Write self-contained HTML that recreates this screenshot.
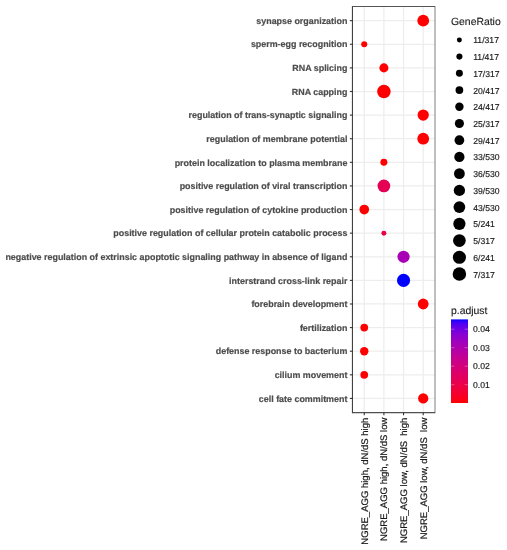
<!DOCTYPE html>
<html><head><meta charset="utf-8"><title>dotplot</title>
<style>html,body{margin:0;padding:0;background:#fff;width:507px;height:550px;overflow:hidden}
svg{display:block;font-family:"Liberation Sans",Arial,sans-serif;text-rendering:geometricPrecision} text{stroke-width:0.25px} .yl{stroke-width:0.18px} .xl{stroke-width:0.2px} .lt{stroke-width:0.12px} .ll{stroke-width:0.16px}</style></head>
<body><svg width="507" height="550" viewBox="0 0 507 550">
<defs><linearGradient id="cb" x1="0" y1="0" x2="0" y2="1"><stop offset="0.000" stop-color="#0000FF"/><stop offset="0.025" stop-color="#3500F9"/><stop offset="0.050" stop-color="#4B00F3"/><stop offset="0.075" stop-color="#5B00ED"/><stop offset="0.100" stop-color="#6800E7"/><stop offset="0.125" stop-color="#7300E0"/><stop offset="0.150" stop-color="#7C00DA"/><stop offset="0.175" stop-color="#8500D4"/><stop offset="0.200" stop-color="#8D00CE"/><stop offset="0.225" stop-color="#9400C8"/><stop offset="0.250" stop-color="#9A00C3"/><stop offset="0.275" stop-color="#A000BD"/><stop offset="0.300" stop-color="#A600B7"/><stop offset="0.325" stop-color="#AB00B1"/><stop offset="0.350" stop-color="#B000AB"/><stop offset="0.375" stop-color="#B500A5"/><stop offset="0.400" stop-color="#BA009F"/><stop offset="0.425" stop-color="#BE009A"/><stop offset="0.450" stop-color="#C20094"/><stop offset="0.475" stop-color="#C6008E"/><stop offset="0.500" stop-color="#CA0088"/><stop offset="0.525" stop-color="#CD0083"/><stop offset="0.550" stop-color="#D1007D"/><stop offset="0.575" stop-color="#D40077"/><stop offset="0.600" stop-color="#D70072"/><stop offset="0.625" stop-color="#DA006C"/><stop offset="0.650" stop-color="#DD0066"/><stop offset="0.675" stop-color="#E00061"/><stop offset="0.700" stop-color="#E3005B"/><stop offset="0.725" stop-color="#E50055"/><stop offset="0.750" stop-color="#E80050"/><stop offset="0.775" stop-color="#EB004A"/><stop offset="0.800" stop-color="#ED0044"/><stop offset="0.825" stop-color="#EF003E"/><stop offset="0.850" stop-color="#F20037"/><stop offset="0.875" stop-color="#F40031"/><stop offset="0.900" stop-color="#F6002A"/><stop offset="0.925" stop-color="#F90023"/><stop offset="0.950" stop-color="#FB001A"/><stop offset="0.975" stop-color="#FD000F"/><stop offset="1.000" stop-color="#FF0000"/></linearGradient></defs>
<rect x="0" y="0" width="507" height="550" fill="#fff"/>
<line x1="352.45" x2="435.0" y1="20.67" y2="20.67" stroke="#EDEDED" stroke-width="1.25"/>
<line x1="352.45" x2="435.0" y1="44.28" y2="44.28" stroke="#EDEDED" stroke-width="1.25"/>
<line x1="352.45" x2="435.0" y1="67.89" y2="67.89" stroke="#EDEDED" stroke-width="1.25"/>
<line x1="352.45" x2="435.0" y1="91.50" y2="91.50" stroke="#EDEDED" stroke-width="1.25"/>
<line x1="352.45" x2="435.0" y1="115.11" y2="115.11" stroke="#EDEDED" stroke-width="1.25"/>
<line x1="352.45" x2="435.0" y1="138.72" y2="138.72" stroke="#EDEDED" stroke-width="1.25"/>
<line x1="352.45" x2="435.0" y1="162.33" y2="162.33" stroke="#EDEDED" stroke-width="1.25"/>
<line x1="352.45" x2="435.0" y1="185.94" y2="185.94" stroke="#EDEDED" stroke-width="1.25"/>
<line x1="352.45" x2="435.0" y1="209.55" y2="209.55" stroke="#EDEDED" stroke-width="1.25"/>
<line x1="352.45" x2="435.0" y1="233.16" y2="233.16" stroke="#EDEDED" stroke-width="1.25"/>
<line x1="352.45" x2="435.0" y1="256.77" y2="256.77" stroke="#EDEDED" stroke-width="1.25"/>
<line x1="352.45" x2="435.0" y1="280.38" y2="280.38" stroke="#EDEDED" stroke-width="1.25"/>
<line x1="352.45" x2="435.0" y1="303.99" y2="303.99" stroke="#EDEDED" stroke-width="1.25"/>
<line x1="352.45" x2="435.0" y1="327.60" y2="327.60" stroke="#EDEDED" stroke-width="1.25"/>
<line x1="352.45" x2="435.0" y1="351.21" y2="351.21" stroke="#EDEDED" stroke-width="1.25"/>
<line x1="352.45" x2="435.0" y1="374.82" y2="374.82" stroke="#EDEDED" stroke-width="1.25"/>
<line x1="352.45" x2="435.0" y1="398.43" y2="398.43" stroke="#EDEDED" stroke-width="1.25"/>
<line x1="364.24" x2="364.24" y1="6.5" y2="412.6" stroke="#EDEDED" stroke-width="1.25"/>
<line x1="383.90" x2="383.90" y1="6.5" y2="412.6" stroke="#EDEDED" stroke-width="1.25"/>
<line x1="403.55" x2="403.55" y1="6.5" y2="412.6" stroke="#EDEDED" stroke-width="1.25"/>
<line x1="423.21" x2="423.21" y1="6.5" y2="412.6" stroke="#EDEDED" stroke-width="1.25"/>
<circle cx="423.21" cy="20.67" r="5.88" fill="#FF0000"/>
<circle cx="364.24" cy="44.28" r="3.03" fill="#FF0000"/>
<circle cx="383.90" cy="67.89" r="4.55" fill="#FF0000"/>
<circle cx="383.90" cy="91.50" r="6.76" fill="#FF0000"/>
<circle cx="423.21" cy="115.11" r="5.64" fill="#FF0000"/>
<circle cx="423.21" cy="138.72" r="5.88" fill="#FF0000"/>
<circle cx="383.90" cy="162.33" r="3.48" fill="#FF0000"/>
<circle cx="383.90" cy="185.94" r="6.34" fill="#E60054"/>
<circle cx="364.24" cy="209.55" r="4.85" fill="#FF0000"/>
<circle cx="383.90" cy="233.16" r="2.49" fill="#ED0044"/>
<circle cx="403.55" cy="256.77" r="6.11" fill="#A800B4"/>
<circle cx="403.55" cy="280.38" r="6.55" fill="#0000FF"/>
<circle cx="423.21" cy="303.99" r="5.39" fill="#FF0000"/>
<circle cx="364.24" cy="327.60" r="3.87" fill="#FF0000"/>
<circle cx="364.24" cy="351.21" r="4.22" fill="#FF0000"/>
<circle cx="364.24" cy="374.82" r="3.87" fill="#FF0000"/>
<circle cx="423.21" cy="398.43" r="5.13" fill="#FF0000"/>
<line x1="352.45" x2="352.45" y1="5.95" y2="413.15000000000003" stroke="#404040" stroke-width="1.1"/>
<line x1="435.0" x2="435.0" y1="5.95" y2="413.15000000000003" stroke="#8A8A8A" stroke-width="1.1"/>
<line x1="352.45" x2="435.0" y1="6.5" y2="6.5" stroke="#555555" stroke-width="1.1"/>
<line x1="352.45" x2="435.0" y1="412.6" y2="412.6" stroke="#505050" stroke-width="1.1"/>
<line x1="349.85" x2="352.45" y1="20.67" y2="20.67" stroke="#333333" stroke-width="1.1"/>
<line x1="349.85" x2="352.45" y1="44.28" y2="44.28" stroke="#333333" stroke-width="1.1"/>
<line x1="349.85" x2="352.45" y1="67.89" y2="67.89" stroke="#333333" stroke-width="1.1"/>
<line x1="349.85" x2="352.45" y1="91.50" y2="91.50" stroke="#333333" stroke-width="1.1"/>
<line x1="349.85" x2="352.45" y1="115.11" y2="115.11" stroke="#333333" stroke-width="1.1"/>
<line x1="349.85" x2="352.45" y1="138.72" y2="138.72" stroke="#333333" stroke-width="1.1"/>
<line x1="349.85" x2="352.45" y1="162.33" y2="162.33" stroke="#333333" stroke-width="1.1"/>
<line x1="349.85" x2="352.45" y1="185.94" y2="185.94" stroke="#333333" stroke-width="1.1"/>
<line x1="349.85" x2="352.45" y1="209.55" y2="209.55" stroke="#333333" stroke-width="1.1"/>
<line x1="349.85" x2="352.45" y1="233.16" y2="233.16" stroke="#333333" stroke-width="1.1"/>
<line x1="349.85" x2="352.45" y1="256.77" y2="256.77" stroke="#333333" stroke-width="1.1"/>
<line x1="349.85" x2="352.45" y1="280.38" y2="280.38" stroke="#333333" stroke-width="1.1"/>
<line x1="349.85" x2="352.45" y1="303.99" y2="303.99" stroke="#333333" stroke-width="1.1"/>
<line x1="349.85" x2="352.45" y1="327.60" y2="327.60" stroke="#333333" stroke-width="1.1"/>
<line x1="349.85" x2="352.45" y1="351.21" y2="351.21" stroke="#333333" stroke-width="1.1"/>
<line x1="349.85" x2="352.45" y1="374.82" y2="374.82" stroke="#333333" stroke-width="1.1"/>
<line x1="349.85" x2="352.45" y1="398.43" y2="398.43" stroke="#333333" stroke-width="1.1"/>
<line x1="364.24" x2="364.24" y1="412.6" y2="415.20" stroke="#333333" stroke-width="1.1"/>
<line x1="383.90" x2="383.90" y1="412.6" y2="415.20" stroke="#333333" stroke-width="1.1"/>
<line x1="403.55" x2="403.55" y1="412.6" y2="415.20" stroke="#333333" stroke-width="1.1"/>
<line x1="423.21" x2="423.21" y1="412.6" y2="415.20" stroke="#333333" stroke-width="1.1"/>
<text x="347.4" y="23.86" text-anchor="end" class="yl" font-weight="bold" font-size="8.92" fill="#4D4D4D" stroke="#4D4D4D">synapse organization</text>
<text x="347.4" y="47.47" text-anchor="end" class="yl" font-weight="bold" font-size="8.92" fill="#4D4D4D" stroke="#4D4D4D">sperm-egg recognition</text>
<text x="347.4" y="71.08" text-anchor="end" class="yl" font-weight="bold" font-size="8.92" fill="#4D4D4D" stroke="#4D4D4D">RNA splicing</text>
<text x="347.4" y="94.69" text-anchor="end" class="yl" font-weight="bold" font-size="8.92" fill="#4D4D4D" stroke="#4D4D4D">RNA capping</text>
<text x="347.4" y="118.30" text-anchor="end" class="yl" font-weight="bold" font-size="8.92" fill="#4D4D4D" stroke="#4D4D4D">regulation of trans-synaptic signaling</text>
<text x="347.4" y="141.91" text-anchor="end" class="yl" font-weight="bold" font-size="8.92" fill="#4D4D4D" stroke="#4D4D4D">regulation of membrane potential</text>
<text x="347.4" y="165.52" text-anchor="end" class="yl" font-weight="bold" font-size="8.92" fill="#4D4D4D" stroke="#4D4D4D">protein localization to plasma membrane</text>
<text x="347.4" y="189.13" text-anchor="end" class="yl" font-weight="bold" font-size="8.92" fill="#4D4D4D" stroke="#4D4D4D">positive regulation of viral transcription</text>
<text x="347.4" y="212.74" text-anchor="end" class="yl" font-weight="bold" font-size="8.92" fill="#4D4D4D" stroke="#4D4D4D">positive regulation of cytokine production</text>
<text x="347.4" y="236.35" text-anchor="end" class="yl" font-weight="bold" font-size="8.92" fill="#4D4D4D" stroke="#4D4D4D">positive regulation of cellular protein catabolic process</text>
<text x="347.4" y="259.96" text-anchor="end" class="yl" font-weight="bold" font-size="8.92" fill="#4D4D4D" stroke="#4D4D4D">negative regulation of extrinsic apoptotic signaling pathway in absence of ligand</text>
<text x="347.4" y="283.57" text-anchor="end" class="yl" font-weight="bold" font-size="8.92" fill="#4D4D4D" stroke="#4D4D4D">interstrand cross-link repair</text>
<text x="347.4" y="307.19" text-anchor="end" class="yl" font-weight="bold" font-size="8.92" fill="#4D4D4D" stroke="#4D4D4D">forebrain development</text>
<text x="347.4" y="330.80" text-anchor="end" class="yl" font-weight="bold" font-size="8.92" fill="#4D4D4D" stroke="#4D4D4D">fertilization</text>
<text x="347.4" y="354.41" text-anchor="end" class="yl" font-weight="bold" font-size="8.92" fill="#4D4D4D" stroke="#4D4D4D">defense response to bacterium</text>
<text x="347.4" y="378.02" text-anchor="end" class="yl" font-weight="bold" font-size="8.92" fill="#4D4D4D" stroke="#4D4D4D">cilium movement</text>
<text x="347.4" y="401.63" text-anchor="end" class="yl" font-weight="bold" font-size="8.92" fill="#4D4D4D" stroke="#4D4D4D">cell fate commitment</text>
<text transform="translate(367.75,417.70) rotate(-90)" x="0" y="0" class="xl" text-anchor="end" font-size="9.52" fill="#1A1A1A" stroke="#1A1A1A" xml:space="preserve">NGRE_AGG high, dN/dS high</text>
<text transform="translate(387.41,417.70) rotate(-90)" x="0" y="0" class="xl" text-anchor="end" font-size="9.52" fill="#1A1A1A" stroke="#1A1A1A" xml:space="preserve">NGRE_AGG high, dN/dS low</text>
<text transform="translate(407.06,417.70) rotate(-90)" x="0" y="0" class="xl" text-anchor="end" font-size="9.52" fill="#1A1A1A" stroke="#1A1A1A" xml:space="preserve">NGRE_AGG low, dN/dS  high</text>
<text transform="translate(426.72,417.70) rotate(-90)" x="0" y="0" class="xl" text-anchor="end" font-size="9.52" fill="#1A1A1A" stroke="#1A1A1A" xml:space="preserve">NGRE_AGG low, dN/dS  low</text>
<text x="451.0" y="25.0" class="lt" font-size="10.4" fill="#1A1A1A" stroke="#1A1A1A">GeneRatio</text>
<circle cx="459.4" cy="39.90" r="2.49" fill="#000"/>
<text x="473.2" y="43.45" class="ll" font-size="8.65" fill="#1A1A1A" stroke="#1A1A1A">11/317</text>
<circle cx="459.4" cy="56.62" r="3.03" fill="#000"/>
<text x="473.2" y="60.17" class="ll" font-size="8.65" fill="#1A1A1A" stroke="#1A1A1A">11/417</text>
<circle cx="459.4" cy="73.34" r="3.48" fill="#000"/>
<text x="473.2" y="76.89" class="ll" font-size="8.65" fill="#1A1A1A" stroke="#1A1A1A">17/317</text>
<circle cx="459.4" cy="90.06" r="3.87" fill="#000"/>
<text x="473.2" y="93.61" class="ll" font-size="8.65" fill="#1A1A1A" stroke="#1A1A1A">20/417</text>
<circle cx="459.4" cy="106.78" r="4.22" fill="#000"/>
<text x="473.2" y="110.33" class="ll" font-size="8.65" fill="#1A1A1A" stroke="#1A1A1A">24/417</text>
<circle cx="459.4" cy="123.50" r="4.55" fill="#000"/>
<text x="473.2" y="127.05" class="ll" font-size="8.65" fill="#1A1A1A" stroke="#1A1A1A">25/317</text>
<circle cx="459.4" cy="140.22" r="4.85" fill="#000"/>
<text x="473.2" y="143.77" class="ll" font-size="8.65" fill="#1A1A1A" stroke="#1A1A1A">29/417</text>
<circle cx="459.4" cy="156.94" r="5.13" fill="#000"/>
<text x="473.2" y="160.49" class="ll" font-size="8.65" fill="#1A1A1A" stroke="#1A1A1A">33/530</text>
<circle cx="459.4" cy="173.66" r="5.39" fill="#000"/>
<text x="473.2" y="177.21" class="ll" font-size="8.65" fill="#1A1A1A" stroke="#1A1A1A">36/530</text>
<circle cx="459.4" cy="190.38" r="5.64" fill="#000"/>
<text x="473.2" y="193.93" class="ll" font-size="8.65" fill="#1A1A1A" stroke="#1A1A1A">39/530</text>
<circle cx="459.4" cy="207.10" r="5.88" fill="#000"/>
<text x="473.2" y="210.65" class="ll" font-size="8.65" fill="#1A1A1A" stroke="#1A1A1A">43/530</text>
<circle cx="459.4" cy="223.82" r="6.11" fill="#000"/>
<text x="473.2" y="227.37" class="ll" font-size="8.65" fill="#1A1A1A" stroke="#1A1A1A">5/241</text>
<circle cx="459.4" cy="240.54" r="6.34" fill="#000"/>
<text x="473.2" y="244.09" class="ll" font-size="8.65" fill="#1A1A1A" stroke="#1A1A1A">5/317</text>
<circle cx="459.4" cy="257.26" r="6.55" fill="#000"/>
<text x="473.2" y="260.81" class="ll" font-size="8.65" fill="#1A1A1A" stroke="#1A1A1A">6/241</text>
<circle cx="459.4" cy="273.98" r="6.76" fill="#000"/>
<text x="473.2" y="277.53" class="ll" font-size="8.65" fill="#1A1A1A" stroke="#1A1A1A">7/317</text>
<text x="451.0" y="313.5" class="lt" font-size="10.4" fill="#1A1A1A" stroke="#1A1A1A">p.adjust</text>
<rect x="451.0" y="319.4" width="17.0" height="83.60" fill="url(#cb)"/>
<line x1="451.0" x2="454.40" y1="329.20" y2="329.20" stroke="#fff" stroke-width="0.5" stroke-opacity="0.6"/>
<line x1="464.60" x2="468.0" y1="329.20" y2="329.20" stroke="#fff" stroke-width="0.5" stroke-opacity="0.6"/>
<text x="473.0" y="332.30" class="ll" font-size="8.65" fill="#1A1A1A" stroke="#1A1A1A">0.04</text>
<line x1="451.0" x2="454.40" y1="347.70" y2="347.70" stroke="#fff" stroke-width="0.5" stroke-opacity="0.6"/>
<line x1="464.60" x2="468.0" y1="347.70" y2="347.70" stroke="#fff" stroke-width="0.5" stroke-opacity="0.6"/>
<text x="473.0" y="350.80" class="ll" font-size="8.65" fill="#1A1A1A" stroke="#1A1A1A">0.03</text>
<line x1="451.0" x2="454.40" y1="366.20" y2="366.20" stroke="#fff" stroke-width="0.5" stroke-opacity="0.6"/>
<line x1="464.60" x2="468.0" y1="366.20" y2="366.20" stroke="#fff" stroke-width="0.5" stroke-opacity="0.6"/>
<text x="473.0" y="369.30" class="ll" font-size="8.65" fill="#1A1A1A" stroke="#1A1A1A">0.02</text>
<line x1="451.0" x2="454.40" y1="384.70" y2="384.70" stroke="#fff" stroke-width="0.5" stroke-opacity="0.6"/>
<line x1="464.60" x2="468.0" y1="384.70" y2="384.70" stroke="#fff" stroke-width="0.5" stroke-opacity="0.6"/>
<text x="473.0" y="387.80" class="ll" font-size="8.65" fill="#1A1A1A" stroke="#1A1A1A">0.01</text>
</svg></body></html>
